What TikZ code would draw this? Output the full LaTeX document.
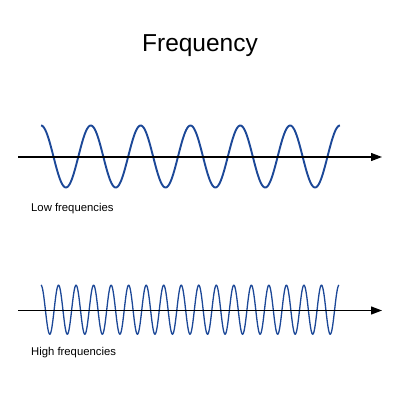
\documentclass[tikz,border=0pt]{standalone}
\usepackage{fontspec}
\setmainfont{Liberation Sans}
\usetikzlibrary{arrows.meta}
\definecolor{waveblue}{RGB}{28,72,152}
\tikzset{
  axisline/.style={draw=black, line width=1.3pt, -{Triangle[length=11pt,width=8pt]}},
  wavelow/.style={draw=waveblue, line width=1.9pt, smooth},
  wavehigh/.style={draw=waveblue, line width=1.3pt, smooth},
  labeltext/.style={anchor=base west, inner sep=0pt, font=\fontsize{11.3}{13}\selectfont},
  titletext/.style={anchor=base, inner sep=0pt, font=\fontsize{24.5}{28}\selectfont}
}
\begin{document}
\begin{tikzpicture}[x=1pt,y=-1pt]
\useasboundingbox (0,0) rectangle (400,400);
\fill[white] (0,0) rectangle (400,400);
\node[titletext] (title) at (200,51.5) {Frequency};
% low frequency
\coordinate (lowstart) at (18,157);
\coordinate (lowend) at (382,157);
\draw[wavelow] plot[domain=41:340, samples=400] (\x, {156.5-31*cos(((\x-41)/49.83)*360)});
\draw[axisline] (lowstart) -- (lowend);
\node[labeltext] (lowlabel) at (31,211.5) {Low frequencies};
% high frequency
\coordinate (highstart) at (18,310.5);
\coordinate (highend) at (382,310.5);
\draw[wavehigh] plot[domain=41:339, samples=900] (\x, {309.7-24.5*cos(((\x-41)/17.53)*360)});
\draw[axisline] (highstart) -- (highend);
\node[labeltext] (highlabel) at (31,355.3) {High frequencies};
\end{tikzpicture}
\end{document}
